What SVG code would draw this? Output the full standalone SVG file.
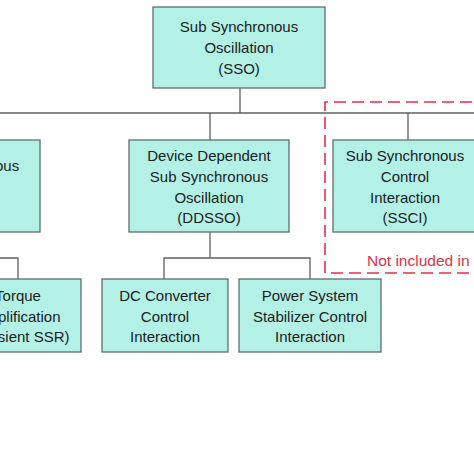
<svg xmlns="http://www.w3.org/2000/svg" width="474" height="474" viewBox="0 0 474 474">
<style>
.box{fill:#b3f1e7;stroke:#5f6f6f;stroke-width:1.3}
.t{font-family:"Liberation Sans",Arial,sans-serif;font-size:15px;fill:#1c1c1c;text-anchor:middle;dominant-baseline:central}
.c{fill:none;stroke:#606060;stroke-width:1.3}
.red{fill:none;stroke:#e0314f;stroke-width:1.6;stroke-dasharray:12 6}
.rt{font-family:"Liberation Sans",Arial,sans-serif;font-size:15.5px;fill:#e0314f;dominant-baseline:central}
</style>
<rect width="474" height="474" fill="#ffffff"/>
<g id="excluded-region">
<path class="red" d="M490 102 H325 V273 H490"/>
<text class="rt" x="367" y="260">Not included in</text>
</g>
<g id="connectors">
<path class="c" d="M240 88 V113"/>
<path class="c" d="M0 113 H480"/>
<path class="c" d="M210 113 V140"/>
<path class="c" d="M408 113 V140"/>
<path class="c" d="M0 258 H18 V279"/>
<path class="c" d="M210 232 V258"/>
<path class="c" d="M164 279 V258 H310 V279"/>
</g>
<g id="sso">
<rect class="box" x="153" y="7" width="172" height="81"/>
<text class="t" x="239" y="26">Sub Synchronous</text>
<text class="t" x="239" y="47">Oscillation</text>
<text class="t" x="239" y="68">(SSO)</text>
</g>
<g id="ssr">
<rect class="box" x="-120" y="140" width="160" height="92"/>
<text class="t" x="-40" y="165">Sub Synchronous</text>
</g>
<g id="ddsso">
<rect class="box" x="129" y="140" width="160" height="92"/>
<text class="t" x="209" y="155">Device Dependent</text>
<text class="t" x="209" y="176">Sub Synchronous</text>
<text class="t" x="209" y="197">Oscillation</text>
<text class="t" x="209" y="217">(DDSSO)</text>
</g>
<g id="ssci">
<rect class="box" x="333" y="140" width="150" height="92"/>
<text class="t" x="405" y="155">Sub Synchronous</text>
<text class="t" x="405" y="176">Control</text>
<text class="t" x="405" y="197">Interaction</text>
<text class="t" x="405" y="217">(SSCI)</text>
</g>
<g id="torque">
<rect class="box" x="-45" y="279" width="126" height="73"/>
<text class="t" x="18" y="295">Torque</text>
<text class="t" x="18" y="316">Amplification</text>
<text class="t" x="16" y="336">(Transient SSR)</text>
</g>
<g id="dc-converter">
<rect class="box" x="102" y="279" width="126" height="73"/>
<text class="t" x="165" y="295">DC Converter</text>
<text class="t" x="165" y="316">Control</text>
<text class="t" x="165" y="336">Interaction</text>
</g>
<g id="pss">
<rect class="box" x="239" y="279" width="142" height="73"/>
<text class="t" x="310" y="295">Power System</text>
<text class="t" x="310" y="316">Stabilizer Control</text>
<text class="t" x="310" y="336">Interaction</text>
</g>
</svg>
